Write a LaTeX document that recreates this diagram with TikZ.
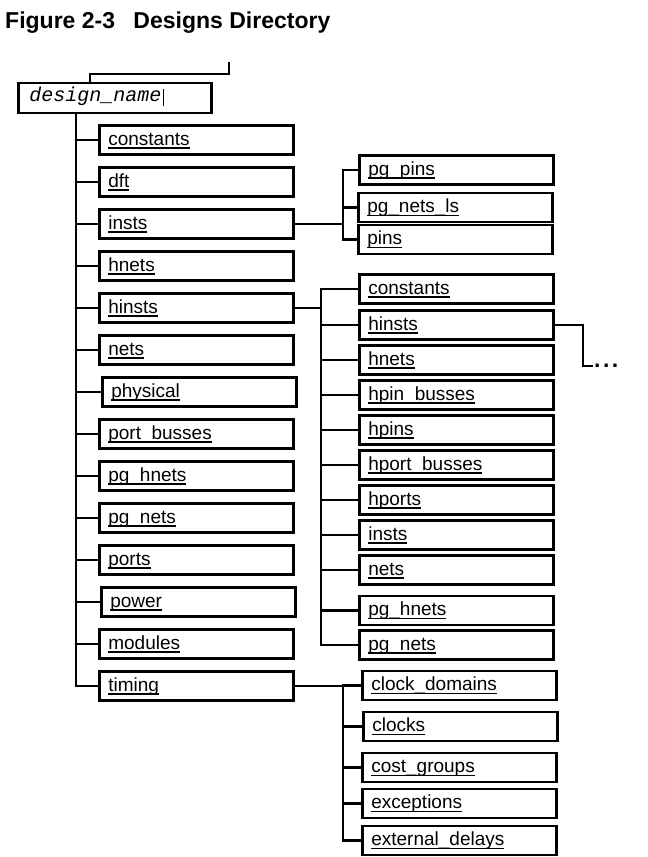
\documentclass[tikz,border=0pt]{standalone}
\usepackage{fontspec}
\setmainfont{Liberation Sans}
\setmonofont{Liberation Mono}
\usetikzlibrary{positioning,calc}

% underlined file name, thick rule like the scan
\newcommand{\fname}[1]{\leavevmode\setbox0\hbox{#1}\rlap{\vrule height -2pt depth 3.8pt width \wd0}\box0}

\tikzset{
  dirbox/.style={draw, line width=2.6pt, anchor=west, text width=176pt, inner xsep=9pt, inner ysep=0pt,
    minimum height=29pt, text height=13pt, text depth=3pt, align=left, font=\fontsize{19}{22}\selectfont},
  wire/.style={line width=2.2pt},
}

\begin{document}
\begin{tikzpicture}[x=1pt, y=1pt]
        \useasboundingbox (0,0) rectangle (648,-857);

        % Title
        \node[anchor=base west, inner sep=0pt, font=\fontsize{23}{27}\selectfont\bfseries] (title) at (5,-28) {Figure 2-3\hspace{0.8em}Designs Directory};

        % Top directory
        \node[draw, line width=2.6pt, anchor=west, text width=171pt, inner xsep=11pt, inner ysep=0pt, minimum height=30pt,
          text height=11pt, text depth=5pt, align=left, font=\fontsize{20}{24}\selectfont\ttfamily\itshape]
          (root) at (17,-98) {design\_name\kern2pt\rule[-5pt]{1pt}{17pt}};
        \coordinate (uplink) at (229,-62);
        \draw[wire] ([xshift=73pt]root.north west) -- ++(0,8) -| (uplink);

        % First level
        \node[dirbox] (b-constants) at (98,-140) {\fname{constants}};
        \node[dirbox] (b-dft) at (98,-182) {\fname{dft}};
        \node[dirbox] (b-insts) at (98,-224) {\fname{insts}};
        \node[dirbox] (b-hnets) at (98,-266) {\fname{hnets}};
        \node[dirbox] (b-hinsts) at (98,-308) {\fname{hinsts}};
        \node[dirbox] (b-nets) at (98,-350) {\fname{nets}};
        \node[dirbox] (b-physical) at (101,-392) {\fname{physical}};
        \node[dirbox] (b-portbusses) at (98,-434) {\fname{port\_busses}};
        \node[dirbox] (b-pghnets) at (98,-476) {\fname{pg\_hnets}};
        \node[dirbox] (b-pgnets) at (98,-518) {\fname{pg\_nets}};
        \node[dirbox] (b-ports) at (98,-560) {\fname{ports}};
        \node[dirbox] (b-power) at (100,-602) {\fname{power}};
        \node[dirbox] (b-modules) at (98,-644) {\fname{modules}};
        \node[dirbox] (b-timing) at (98,-686) {\fname{timing}};

        \coordinate (mainbus) at ([xshift=59pt]root.south west);
        \draw[wire] (mainbus) |- (b-timing.west);
        \foreach \n in {constants,dft,insts,hnets,hinsts,nets,physical,portbusses,pghnets,pgnets,ports,power,modules}
          \draw[wire] (b-\n.west) -- (b-\n.west -| mainbus);

        % insts
        \node[dirbox] (i-pgpins) at (358,-170) {\fname{pg\_pins}};
        \node[dirbox] (i-pgnetsls) at (357,-207.5) {\fname{pg\_nets\_ls}};
        \node[dirbox] (i-pins) at (357,-239.5) {\fname{pins}};

        \coordinate (instsbus) at (343,0);
        \draw[wire] (b-insts.east) -- (b-insts.east -| instsbus);
        \draw[wire] (i-pgpins.west) -| (i-pins.west -| instsbus) -- (i-pins.west);
        \draw[wire] (i-pgnetsls.west) -- (i-pgnetsls.west -| instsbus);

        % hinsts
        \node[dirbox] (h-constants) at (358,-289) {\fname{constants}};
        \node[dirbox] (h-hinsts) at (358,-325) {\fname{hinsts}};
        \node[dirbox] (h-hnets) at (358,-360) {\fname{hnets}};
        \node[dirbox] (h-hpinbusses) at (358,-395) {\fname{hpin\_busses}};
        \node[dirbox] (h-hpins) at (358,-430) {\fname{hpins}};
        \node[dirbox] (h-hportbusses) at (358,-465) {\fname{hport\_busses}};
        \node[dirbox] (h-hports) at (358,-500) {\fname{hports}};
        \node[dirbox] (h-insts) at (358,-535) {\fname{insts}};
        \node[dirbox] (h-nets) at (358,-570) {\fname{nets}};
        \node[dirbox] (h-pghnets) at (358,-610.5) {\fname{pg\_hnets}};
        \node[dirbox] (h-pgnets) at (358,-645) {\fname{pg\_nets}};

        \coordinate (hinstsbus) at (321,0);
        \draw[wire] (b-hinsts.east) -- (b-hinsts.east -| hinstsbus);
        \draw[wire] (h-constants.west) -| (h-pgnets.west -| hinstsbus) -- (h-pgnets.west);
        \foreach \n in {hinsts,hnets,hpinbusses,hpins,hportbusses,hports,insts,nets,pghnets}
          \draw[wire] (h-\n.west) -- (h-\n.west -| hinstsbus);

        % deeper hinsts
        \node[anchor=west, inner sep=1pt, text height=3pt, text depth=0pt, font=\fontsize{23}{26}\selectfont\bfseries] (more) at (593,-366) {.\hspace{2.5pt}.\hspace{2.5pt}.};
        \draw[wire] (h-hinsts.east) -| ($(more.west)+(-10,0)$) -- (more.west);

        % timing
        \node[dirbox] (t-clockdomains) at (361,-685.5) {\fname{clock\_domains}};
        \node[dirbox] (t-clocks) at (362,-726.5) {\fname{clocks}};
        \node[dirbox] (t-costgroups) at (361,-767.5) {\fname{cost\_groups}};
        \node[dirbox] (t-exceptions) at (361,-803.5) {\fname{exceptions}};
        \node[dirbox] (t-extdelays) at (361,-840.5) {\fname{external\_delays}};

        \coordinate (timingbus) at (343,0);
        \draw[wire] (b-timing.east) -- (b-timing.east -| timingbus);
        \draw[wire] (t-clockdomains.west) -| (t-extdelays.west -| timingbus) -- (t-extdelays.west);
        \foreach \n in {clocks,costgroups,exceptions}
          \draw[wire] (t-\n.west) -- (t-\n.west -| timingbus);
\end{tikzpicture}
\end{document}
